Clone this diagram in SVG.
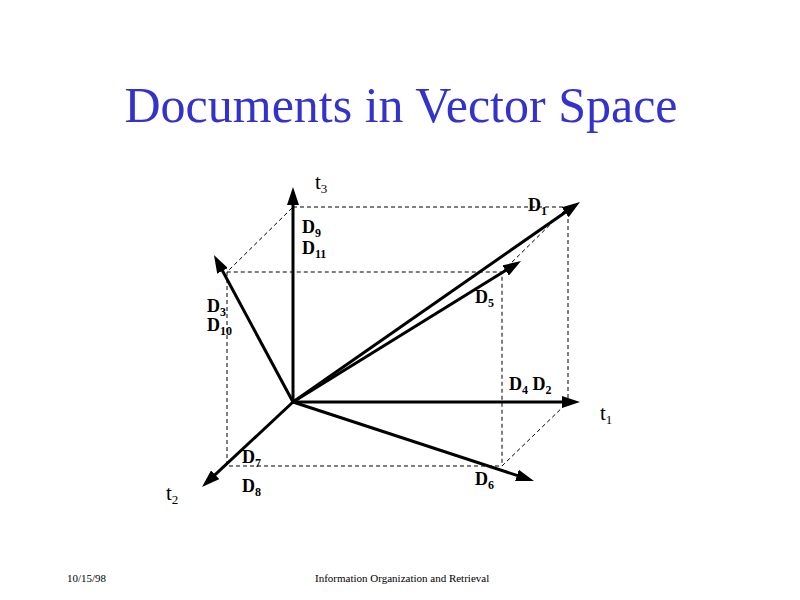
<svg xmlns="http://www.w3.org/2000/svg" width="800" height="600" viewBox="0 0 800 600">
<style>
.title{font-family:'Liberation Serif','Times New Roman','DejaVu Serif',serif;font-size:50px;fill:#3333CC}
.lbl{font-family:'Liberation Serif','Times New Roman','DejaVu Serif',serif;font-size:18px;font-weight:bold;fill:#000}
.sub{font-size:12px}
.ax{font-family:'Liberation Serif','Times New Roman','DejaVu Serif',serif;font-size:21px;fill:#000}
.axs{font-size:13px}
.foot{font-family:'Liberation Serif','Times New Roman','DejaVu Serif',serif;font-size:11px;fill:#000}
.vec{stroke:#000;stroke-width:3;fill:none;marker-end:url(#ah)}
.dash{stroke:#000;stroke-width:1;stroke-dasharray:4,3;fill:none}
</style>
<defs>
<marker id="ah" markerUnits="userSpaceOnUse" markerWidth="18" markerHeight="12" refX="8" refY="6" orient="auto">
<path d="M0,0 L18,6 L0,12 z" fill="#000"/>
</marker>
</defs>
<rect width="800" height="600" fill="#fff"/>
<text class="title" x="401" y="122" text-anchor="middle">Documents in Vector Space</text>
<g id="guides">
<path class="dash" d="M293,207 H568 V402"/>
<path class="dash" d="M292,208 L227,272 H502 V466"/>
<path class="dash" d="M227,272 V466 H502 L568,402"/>
<path class="dash" d="M502,272 L568,207"/>
</g>
<g id="connectors">
<line class="vec" x1="293" y1="402" x2="293" y2="197"/>
<line class="vec" x1="293" y1="402" x2="570" y2="402"/>
<line class="vec" x1="293" y1="402" x2="209.3" y2="480.2"/>
<line class="vec" x1="293" y1="402" x2="218.7" y2="263.8"/>
<line class="vec" x1="293" y1="402" x2="571.8" y2="207.7"/>
<line class="vec" x1="293" y1="402" x2="512.5" y2="266.3"/>
<line class="vec" x1="293" y1="402" x2="524.5" y2="477.9"/>
</g>
<g id="t3"><text class="ax" x="315" y="189">t<tspan class="axs" dy="4">3</tspan></text></g>
<g id="t1"><text class="ax" x="600" y="420">t<tspan class="axs" dy="4">1</tspan></text></g>
<g id="t2"><text class="ax" x="166" y="500">t<tspan class="axs" dy="4">2</tspan></text></g>
<g id="D1"><text class="lbl" x="528" y="211">D<tspan class="sub" dy="4">1</tspan></text></g>
<g id="D9"><text class="lbl" x="302" y="233">D<tspan class="sub" dy="4">9</tspan></text></g>
<g id="D11"><text class="lbl" x="302" y="254">D<tspan class="sub" dy="4">11</tspan></text></g>
<g id="D3"><text class="lbl" x="207" y="312">D<tspan class="sub" dy="4">3</tspan></text></g>
<g id="D10"><text class="lbl" x="207" y="331">D<tspan class="sub" dy="4">10</tspan></text></g>
<g id="D5"><text class="lbl" x="475" y="303">D<tspan class="sub" dy="4">5</tspan></text></g>
<g id="D4D2"><text class="lbl" x="509" y="390">D<tspan class="sub" dy="4">4</tspan><tspan dy="-4"> D</tspan><tspan class="sub" dy="4">2</tspan></text></g>
<g id="D7"><text class="lbl" x="242" y="463">D<tspan class="sub" dy="4">7</tspan></text></g>
<g id="D8"><text class="lbl" x="242" y="492">D<tspan class="sub" dy="4">8</tspan></text></g>
<g id="D6"><text class="lbl" x="475" y="485">D<tspan class="sub" dy="4">6</tspan></text></g>
<text class="foot" x="67" y="582">10/15/98</text>
<text class="foot" x="315" y="582">Information Organization and Retrieval</text>
</svg>
